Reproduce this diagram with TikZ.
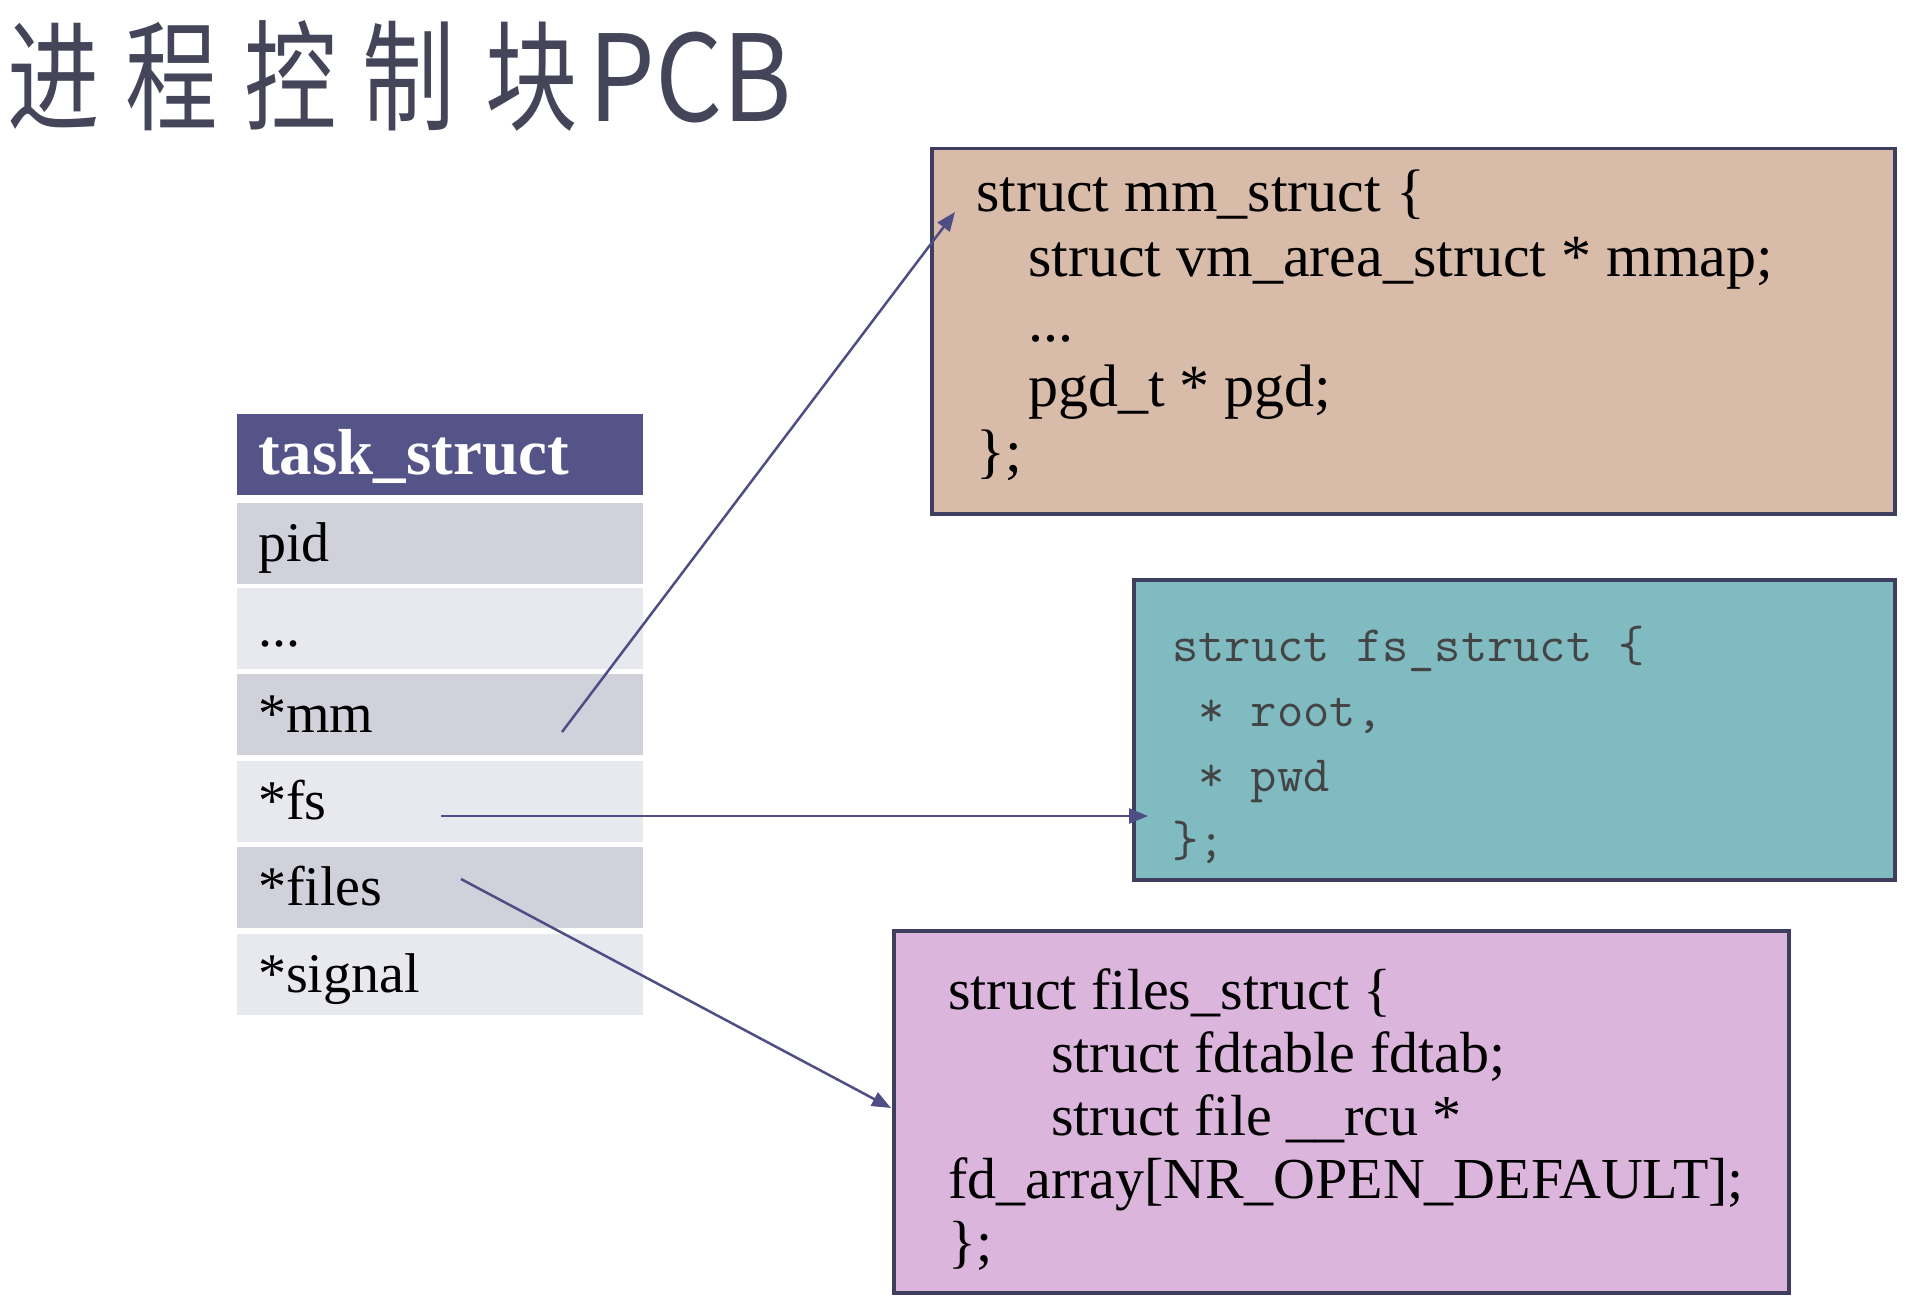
\documentclass[tikz,border=0pt]{standalone}
\usepackage{fontspec}
\setmainfont{Liberation Serif}
\newfontfamily\cjkfont{Noto Sans CJK SC}
\usetikzlibrary{arrows.meta}
\definecolor{titlecol}{HTML}{45455A}
\definecolor{hdrcol}{HTML}{545488}
\definecolor{rowdark}{HTML}{D1D1DC}
\definecolor{rowlight}{HTML}{E8E8EF}
\definecolor{bordercol}{HTML}{3E3E5E}
\definecolor{arrowcol}{HTML}{4E4E85}
\definecolor{mmfill}{HTML}{D9BBA9}
\definecolor{fsfill}{HTML}{80BBC1}
\definecolor{filesfill}{HTML}{DCB5DC}
\definecolor{fstext}{HTML}{444444}
\tikzset{
  titlech/.style={anchor=base, inner sep=0pt, text=titlecol, font=\cjkfont\fontsize{120}{120}\selectfont},
  hdrbox/.style={anchor=north west, fill=hdrcol, minimum width=406pt, minimum height=81pt, inner xsep=21pt, inner ysep=0pt,
    text width=364pt, align=left, text height=48pt, text depth=8pt, text=white, font=\bfseries\fontsize{65}{70}\selectfont},
  rowbox/.style={anchor=north west, minimum width=406pt, minimum height=81pt, inner xsep=21pt, inner ysep=0pt,
    text width=364pt, align=left, text height=46pt, text depth=10pt, text=black, font=\fontsize{56}{60}\selectfont},
  structbox/.style={anchor=north west, draw=bordercol, line width=3.5pt, inner sep=0pt},
  codetext/.style={anchor=base west, align=left, inner sep=0pt},
  arr/.style={draw=arrowcol, line width=2.5pt, -{Triangle[length=19pt,width=15pt]}},
}
\begin{document}
\begin{tikzpicture}[x=1pt,y=-1pt]
\useasboundingbox (0,0) rectangle (1906,1308);
% title
\node[titlech] (t1) at (53.5,122) {\scalebox{0.77}[1]{进}};
\node[titlech] (t2) at (171.5,122) {\scalebox{0.77}[1]{程}};
\node[titlech] (t3) at (290.5,122) {\scalebox{0.77}[1]{控}};
\node[titlech] (t4) at (409,122) {\scalebox{0.77}[1]{制}};
\node[titlech] (t5) at (531.5,122) {\scalebox{0.77}[1]{块}};
\node[titlech, anchor=base west] (t6) at (588,122) {\scalebox{0.88}[1]{PCB}};
% task_struct table
\node[hdrbox] (hdr) at (237,414) {task\_struct};
\node[rowbox, fill=rowdark] (rpid) at (237,503) {pid};
\node[rowbox, fill=rowlight] (rdots) at (237,588) {...};
\node[rowbox, fill=rowdark] (rmm) at (237,674) {*mm};
\node[rowbox, fill=rowlight] (rfs) at (237,761) {*fs};
\node[rowbox, fill=rowdark] (rfiles) at (237,847) {*files};
\node[rowbox, fill=rowlight] (rsignal) at (237,934) {*signal};
% mm_struct (anchor = baseline of last line)
\node[structbox, fill=mmfill, minimum width=963pt, minimum height=365pt] (mmbox) at (930,147) {};
\node[codetext, font=\fontsize{60}{65}\selectfont] (mmtext) at (976,471)
  {struct mm\_struct \{\\
   \hspace*{52pt}struct vm\_area\_struct * mmap;\\
   \hspace*{52pt}...\\
   \hspace*{52pt}pgd\_t * pgd;\\
   \};};
% fs_struct
\node[structbox, fill=fsfill, minimum width=761pt, minimum height=300pt] (fsbox) at (1132,578) {};
\node[codetext, text=fstext, font=\ttfamily\fontsize{51}{65}\selectfont] (fstext) at (1172,856)
  {struct fs\_struct \{\\
   \ * root,\\
   \ * pwd\\
   \};};
% files_struct
\node[structbox, fill=filesfill, minimum width=895pt, minimum height=362pt] (filesbox) at (892,929) {};
\node[codetext, font=\fontsize{58}{63}\selectfont] (filestext) at (948,1261)
  {struct files\_struct \{\\
   \hspace*{103pt}struct fdtable fdtab;\\
   \hspace*{103pt}struct file \_\_rcu *\\
   fd\_array[NR\_OPEN\_DEFAULT];\\
   \};};
% arrows
\coordinate (mmsrc) at (562,732);
\coordinate (mmtip) at (955,212);
\coordinate (fssrc) at (441,816);
\coordinate (fstip) at (1148,816);
\coordinate (filessrc) at (461,879);
\coordinate (filestip) at (891,1108);
\draw[arr] (mmsrc) -- (mmtip);
\draw[arr] (fssrc) -- (fstip);
\draw[arr] (filessrc) -- (filestip);
\end{tikzpicture}
\end{document}
